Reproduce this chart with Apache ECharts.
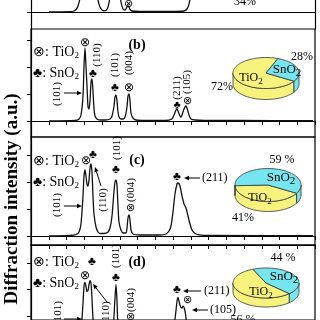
<!DOCTYPE html>
<html>
<head>
<meta charset="utf-8">
<script src="https://cdn.jsdelivr.net/npm/echarts@6/dist/echarts.min.js"></script>
<style>
  html, body { margin: 0; padding: 0; background: #fff; }
  #chart { width: 320px; height: 320px; }
</style>
</head>
<body>
<div id="chart"></div>
<script>
// XRD patterns, [2theta (deg), intensity (a.u.)]
const patternA = [
  [15.07, 0], [20.99, 0.4], [22.11, 1], [22.68, 2.5], [23.24, 6], [23.80, 14], [24.37, 30],
  [25.21, 50], [26.06, 60], [26.90, 55], [27.75, 40], [28.31, 25], [28.87, 12], [29.44, 5],
  [30.00, 2], [30.56, 1.2], [31.13, 1.5], [31.69, 5], [32.25, 15], [32.82, 32], [33.94, 45],
  [34.79, 25], [35.35, 10], [35.92, 3], [36.48, 2], [36.76, 3], [37.04, 5], [37.32, 6],
  [37.61, 5], [37.89, 2.5], [38.45, 1], [40.70, 0.5], [49.15, 0.5], [53.10, 1], [53.94, 3],
  [54.51, 8], [55.07, 18], [55.92, 35], [57.61, 55], [60.42, 60], [66.06, 60], [74.51, 55],
  [82.96, 50], [89.44, 45]
];
const patternB = [
  [15.07, 0], [22.39, 0.5], [23.52, 2], [24.08, 6], [24.65, 25], [24.93, 55], [25.21, 73],
  [25.49, 55], [25.77, 35], [26.06, 14], [26.34, 12], [26.62, 20], [26.90, 38], [27.18, 42],
  [27.46, 30], [27.75, 12], [28.03, 5], [28.59, 2], [29.44, 1], [30.85, 1], [32.25, 2],
  [32.82, 5], [33.38, 15], [33.66, 24], [33.94, 26], [34.23, 20], [34.51, 9], [34.79, 4],
  [35.35, 2], [35.92, 2], [36.48, 4], [37.04, 14], [37.32, 25], [37.61, 27], [37.89, 20],
  [38.17, 8], [38.73, 3], [39.58, 1], [42.11, 0.5], [47.75, 0.5], [49.72, 2], [50.28, 6],
  [50.85, 11], [51.13, 12], [51.41, 10], [51.97, 5], [52.25, 4], [52.54, 6], [53.10, 12],
  [53.66, 15], [53.94, 13], [54.51, 6], [55.07, 2], [56.20, 1], [61.83, 0.5], [68.87, 0.5],
  [89.44, 0.3]
];
const patternC = [
  [15.07, 0], [20.99, 0.5], [22.68, 1.5], [23.52, 4], [24.08, 12], [24.65, 40], [24.93, 60],
  [25.21, 66], [25.49, 60], [25.77, 52], [26.06, 50], [26.34, 56], [26.62, 68], [26.90, 72],
  [27.18, 64], [27.46, 40], [27.75, 22], [28.31, 9], [28.87, 4], [29.44, 2.5], [30.56, 2.5],
  [31.69, 4], [32.25, 8], [32.82, 20], [33.38, 45], [33.66, 54], [33.94, 56], [34.23, 50],
  [34.51, 30], [34.79, 14], [35.35, 6], [35.92, 3], [36.76, 3], [37.04, 8], [37.32, 18],
  [37.61, 21], [37.89, 16], [38.17, 6], [38.73, 2], [40.70, 1], [46.34, 1], [48.03, 2],
  [48.87, 5], [49.44, 10], [50.00, 24], [50.56, 42], [51.13, 52], [51.41, 53], [51.97, 50],
  [52.54, 40], [53.10, 32], [53.66, 28], [54.23, 20], [54.79, 12], [55.35, 6], [56.20, 2.5],
  [57.32, 1.2], [60.42, 0.5], [89.44, 0.3]
];
const patternD = [
  [15.07, 0], [22.68, 1], [23.52, 4], [24.08, 12], [24.65, 40], [24.93, 57], [25.21, 61],
  [25.49, 57], [25.77, 52], [26.06, 53], [26.34, 59], [26.62, 63], [26.90, 60], [27.18, 45],
  [27.46, 25], [28.03, 9], [28.87, 3], [30.56, 2], [32.25, 4], [33.10, 14], [33.66, 45],
  [33.94, 59], [34.23, 42], [34.51, 16], [35.07, 5], [35.92, 3], [37.04, 5], [37.61, 12],
  [38.17, 5], [39.01, 2], [43.52, 1], [48.59, 2], [49.72, 7], [50.56, 24], [51.13, 42],
  [51.41, 46], [51.97, 38], [52.54, 35], [52.82, 37], [53.38, 32], [53.94, 18], [54.79, 7],
  [55.92, 2], [59.01, 1], [89.44, 0.3]
];

// phase fractions, % [TiO2, SnO2]
const pieB = [72, 28];
const pieC = [41, 59];
const pieD = [56, 44];
const shareA = 34;

const yTicks = [0, 27, 54, 81];
const FONT = '"Liberation Serif", "Times New Roman", serif';
const pieColors = ['#f6f27c', '#74e6f0'];

// panel layout: pixel box of each panel and the value range in view
// (a) and (d) are cut by the picture edge, so only their visible part is laid out
const panels = [
  { top: 0, height: 29, min: -17, max: 12, data: patternA, border: false },
  { top: 29, height: 108, min: -16, max: 92, data: patternB, border: true },
  { top: 137, height: 108, min: -9, max: 99, data: patternC, border: true },
  { top: 245, height: 76, min: 23, max: 99, data: patternD, border: true }
];

const RICH = {
  s: { fontFamily: FONT, fontSize: 9, padding: [7, 0, 0, 0] },
  S: { fontFamily: FONT, fontSize: 11, padding: [7, 0, 0, 0] }
};

function label(x, y, text, size, opts) {
  opts = opts || {};
  const align = opts.align || 'center';
  return {
    type: 'text', x: x, y: y, z: 20,
    rotation: opts.rot ? Math.PI / 2 : 0,
    style: {
      text: text, fontFamily: FONT, fontSize: size,
      fontWeight: opts.bold ? 'bold' : 'normal', fill: '#000',
      align: align, verticalAlign: 'middle',
      textAlign: align, textVerticalAlign: 'middle',
      rich: RICH
    }
  };
}

// arrow with its head at (x2, y2)
function arrow(x1, y1, x2, y2) {
  const ang = Math.atan2(y2 - y1, x2 - x1), L = 5, W = 2.2;
  const bx = x2 - L * Math.cos(ang), by = y2 - L * Math.sin(ang);
  const nx = -Math.sin(ang), ny = Math.cos(ang);
  return [
    { type: 'line', z: 20, shape: { x1: x1, y1: y1, x2: bx, y2: by }, style: { stroke: '#000', lineWidth: 1 } },
    { type: 'polygon', z: 20, shape: { points: [[x2, y2], [bx + nx * W, by + ny * W], [bx - nx * W, by - ny * W]] }, style: { fill: '#000' } }
  ];
}

// tilted 3D pie drawn from the values, one item per slice
function makePie(values, cx, cy, rx, ry, depth, start) {
  const total = values.reduce((s, v) => s + v, 0);
  return {
    type: 'custom',
    coordinateSystem: 'none',
    silent: true,
    z: 5,
    data: values.map((v, i) => [v, i]),
    renderItem: function (params, api) {
      const i = params.dataIndex;
      let before = 0;
      for (let k = 0; k < i; k++) before += values[k];
      const a0 = start + before / total * 360;
      const a1 = a0 + api.value(0) / total * 360;
      const color = pieColors[i];
      const pt = (deg, dy) => {
        const t = deg * Math.PI / 180;
        return [cx + rx * Math.cos(t), cy + dy + ry * Math.sin(t)];
      };
      const arc = (from, to, dy) => {
        const pts = [];
        const n = Math.max(2, Math.ceil(Math.abs(to - from) / 3));
        for (let k = 0; k <= n; k++) pts.push(pt(from + (to - from) * k / n, dy));
        return pts;
      };
      const children = [];
      // front side wall
      for (let base = -360; base <= 720; base += 360) {
        const s = Math.max(a0, base), e = Math.min(a1, base + 180);
        if (e > s) {
          children.push({
            type: 'polygon',
            shape: { points: arc(s, e, 0).concat(arc(e, s, depth)) },
            style: { fill: color, stroke: '#333', lineWidth: 0.8 }
          });
        }
      }
      children.push({
        type: 'polygon',
        shape: { points: [[cx, cy]].concat(arc(a0, a1, 0)) },
        style: { fill: color, stroke: '#333', lineWidth: 0.8 }
      });
      return { type: 'group', children: children };
    }
  };
}

const chart = echarts.init(document.getElementById('chart'), null, { renderer: 'canvas' });

const graphics = [
  label(12, 199, 'Diffraction intensity (a.u.)', 19, { rot: true, bold: true }),
  // (a), only its lower edge is in view
  label(128, 4, '⊗', 11),
  label(245, 2, shareA + '%', 12),
  // (b)
  label(33, 52, '⊗: TiO{s|2}', 14, { align: 'left' }),
  label(33, 73, '♣: SnO{s|2}', 14, { align: 'left' }),
  label(137, 45, '(b)', 14, { bold: true }),
  label(57, 94, '(101)', 11, { rot: true }),
  label(85, 43, '⊗', 12),
  label(97, 55, '(110)', 11, { rot: true }),
  label(93, 74, '♣', 12),
  label(115, 65, '(101)', 11, { rot: true }),
  label(115, 88, '♣', 12),
  label(129, 63, '(004)', 11, { rot: true }),
  label(129, 88, '⊗', 12),
  label(177, 88, '(211)', 11, { rot: true }),
  label(177, 105, '♣', 11),
  label(187, 82, '(105)', 11, { rot: true }),
  label(187, 101, '⊗', 11),
  label(302, 57, pieB[1] + '%', 12),
  label(222, 87, pieB[0] + '%', 12),
  label(251, 78, 'TiO{s|2}', 12),
  label(287, 70, 'SnO{S|2}', 13),
  // (c)
  label(33, 161, '⊗: TiO{s|2}', 14, { align: 'left' }),
  label(33, 182, '♣: SnO{s|2}', 14, { align: 'left' }),
  label(137, 160, '(c)', 14, { bold: true }),
  label(86, 161, '⊗', 12),
  label(93, 155, '♣', 12),
  label(57, 205, '(101)', 11, { rot: true }),
  label(103, 200, '(110)', 11, { rot: true }),
  label(117, 148, '(101)', 11, { rot: true }),
  label(116, 170, '♣', 12),
  label(131, 190, '(004)', 11, { rot: true }),
  label(130, 208, '⊗', 11),
  label(177, 177, '♣', 12),
  label(202, 178, '(211)', 12, { align: 'left' }),
  label(282, 160, pieC[1] + ' %', 12),
  label(243, 218, pieC[0] + '%', 12),
  label(281, 178, 'SnO{S|2}', 13),
  label(260, 198, 'TiO{s|2}', 12),
  // (d)
  label(33, 262, '⊗: TiO{s|2}', 14, { align: 'left' }),
  label(33, 283, '♣: SnO{s|2}', 14, { align: 'left' }),
  label(137, 262, '(d)', 14, { bold: true }),
  label(92, 262, '♣', 12),
  label(85, 276, '⊗', 12),
  label(116, 256, '(101)', 11, { rot: true }),
  label(116, 278, '♣', 12),
  label(106, 313, '(110)', 11, { rot: true }),
  label(131, 300, '(004)', 11, { rot: true }),
  label(130, 317, '⊗', 11),
  label(58, 313, '(101)', 11, { rot: true }),
  label(177, 290, '♣', 12),
  label(204, 291, '(211)', 12, { align: 'left' }),
  label(187, 300, '⊗', 11),
  label(210, 310, '(105)', 12, { align: 'left' }),
  label(283, 258, pieD[1] + ' %', 12),
  label(243, 320, pieD[0] + ' %', 12),
  label(284, 277, 'SnO{S|2}', 13),
  label(261, 292, 'TiO{s|2}', 12)
].concat(
  arrow(64, 93, 82, 93),
  arrow(64, 206, 82, 206),
  arrow(101, 186, 95, 167),
  arrow(200, 178, 184, 178),
  arrow(107, 302, 93, 284),
  arrow(64, 319, 82, 319),
  arrow(201, 291, 183, 291),
  arrow(208, 310, 192, 310)
);

const axisLine = { show: true, lineStyle: { color: '#000', width: 1.2 } };

const yAxes = panels.map((p, i) => ({
  type: 'value', gridIndex: i,
  min: p.min, max: p.max,
  axisLine: axisLine,
  axisTick: { show: true, inside: false, length: 4, customValues: yTicks, lineStyle: { color: '#000', width: 1 } },
  axisLabel: { show: false, customValues: yTicks },
  splitLine: { show: false }
}));
// right edge of the cut-off top panel
yAxes.push({
  type: 'value', gridIndex: 0, position: 'right',
  min: panels[0].min, max: panels[0].max,
  axisLine: axisLine, axisTick: { show: false }, axisLabel: { show: false }, splitLine: { show: false }
});

const option = {
  animation: false,
  backgroundColor: '#fff',
  grid: panels.map(p => ({
    left: 31, width: 284, top: p.top, height: p.height,
    show: p.border, borderColor: '#000', borderWidth: 1.2, backgroundColor: 'transparent'
  })),
  xAxis: panels.map((p, i) => ({
    type: 'value', gridIndex: i, position: p.border ? 'top' : 'bottom',
    min: 10, max: 90, interval: 5,
    axisLine: axisLine,
    axisTick: { show: p.border, inside: true, length: 4, lineStyle: { color: '#000', width: 1 } },
    axisLabel: { show: false },
    splitLine: { show: false }
  })),
  yAxis: yAxes,
  series: panels.map((p, i) => ({
    type: 'line', xAxisIndex: i, yAxisIndex: i,
    data: p.data, symbol: 'none', smooth: 0.25, silent: true, z: 3,
    lineStyle: { color: '#111', width: 1.3 }
  })).concat([
    makePie(pieB, 266, 73, 33, 15.5, 11, 32),
    makePie(pieC, 268, 185, 33, 16.5, 10, 30),
    makePie(pieD, 266, 283, 33, 15, 9, 45)
  ]),
  graphic: graphics
};

chart.setOption(option);
</script>
</body>
</html>
